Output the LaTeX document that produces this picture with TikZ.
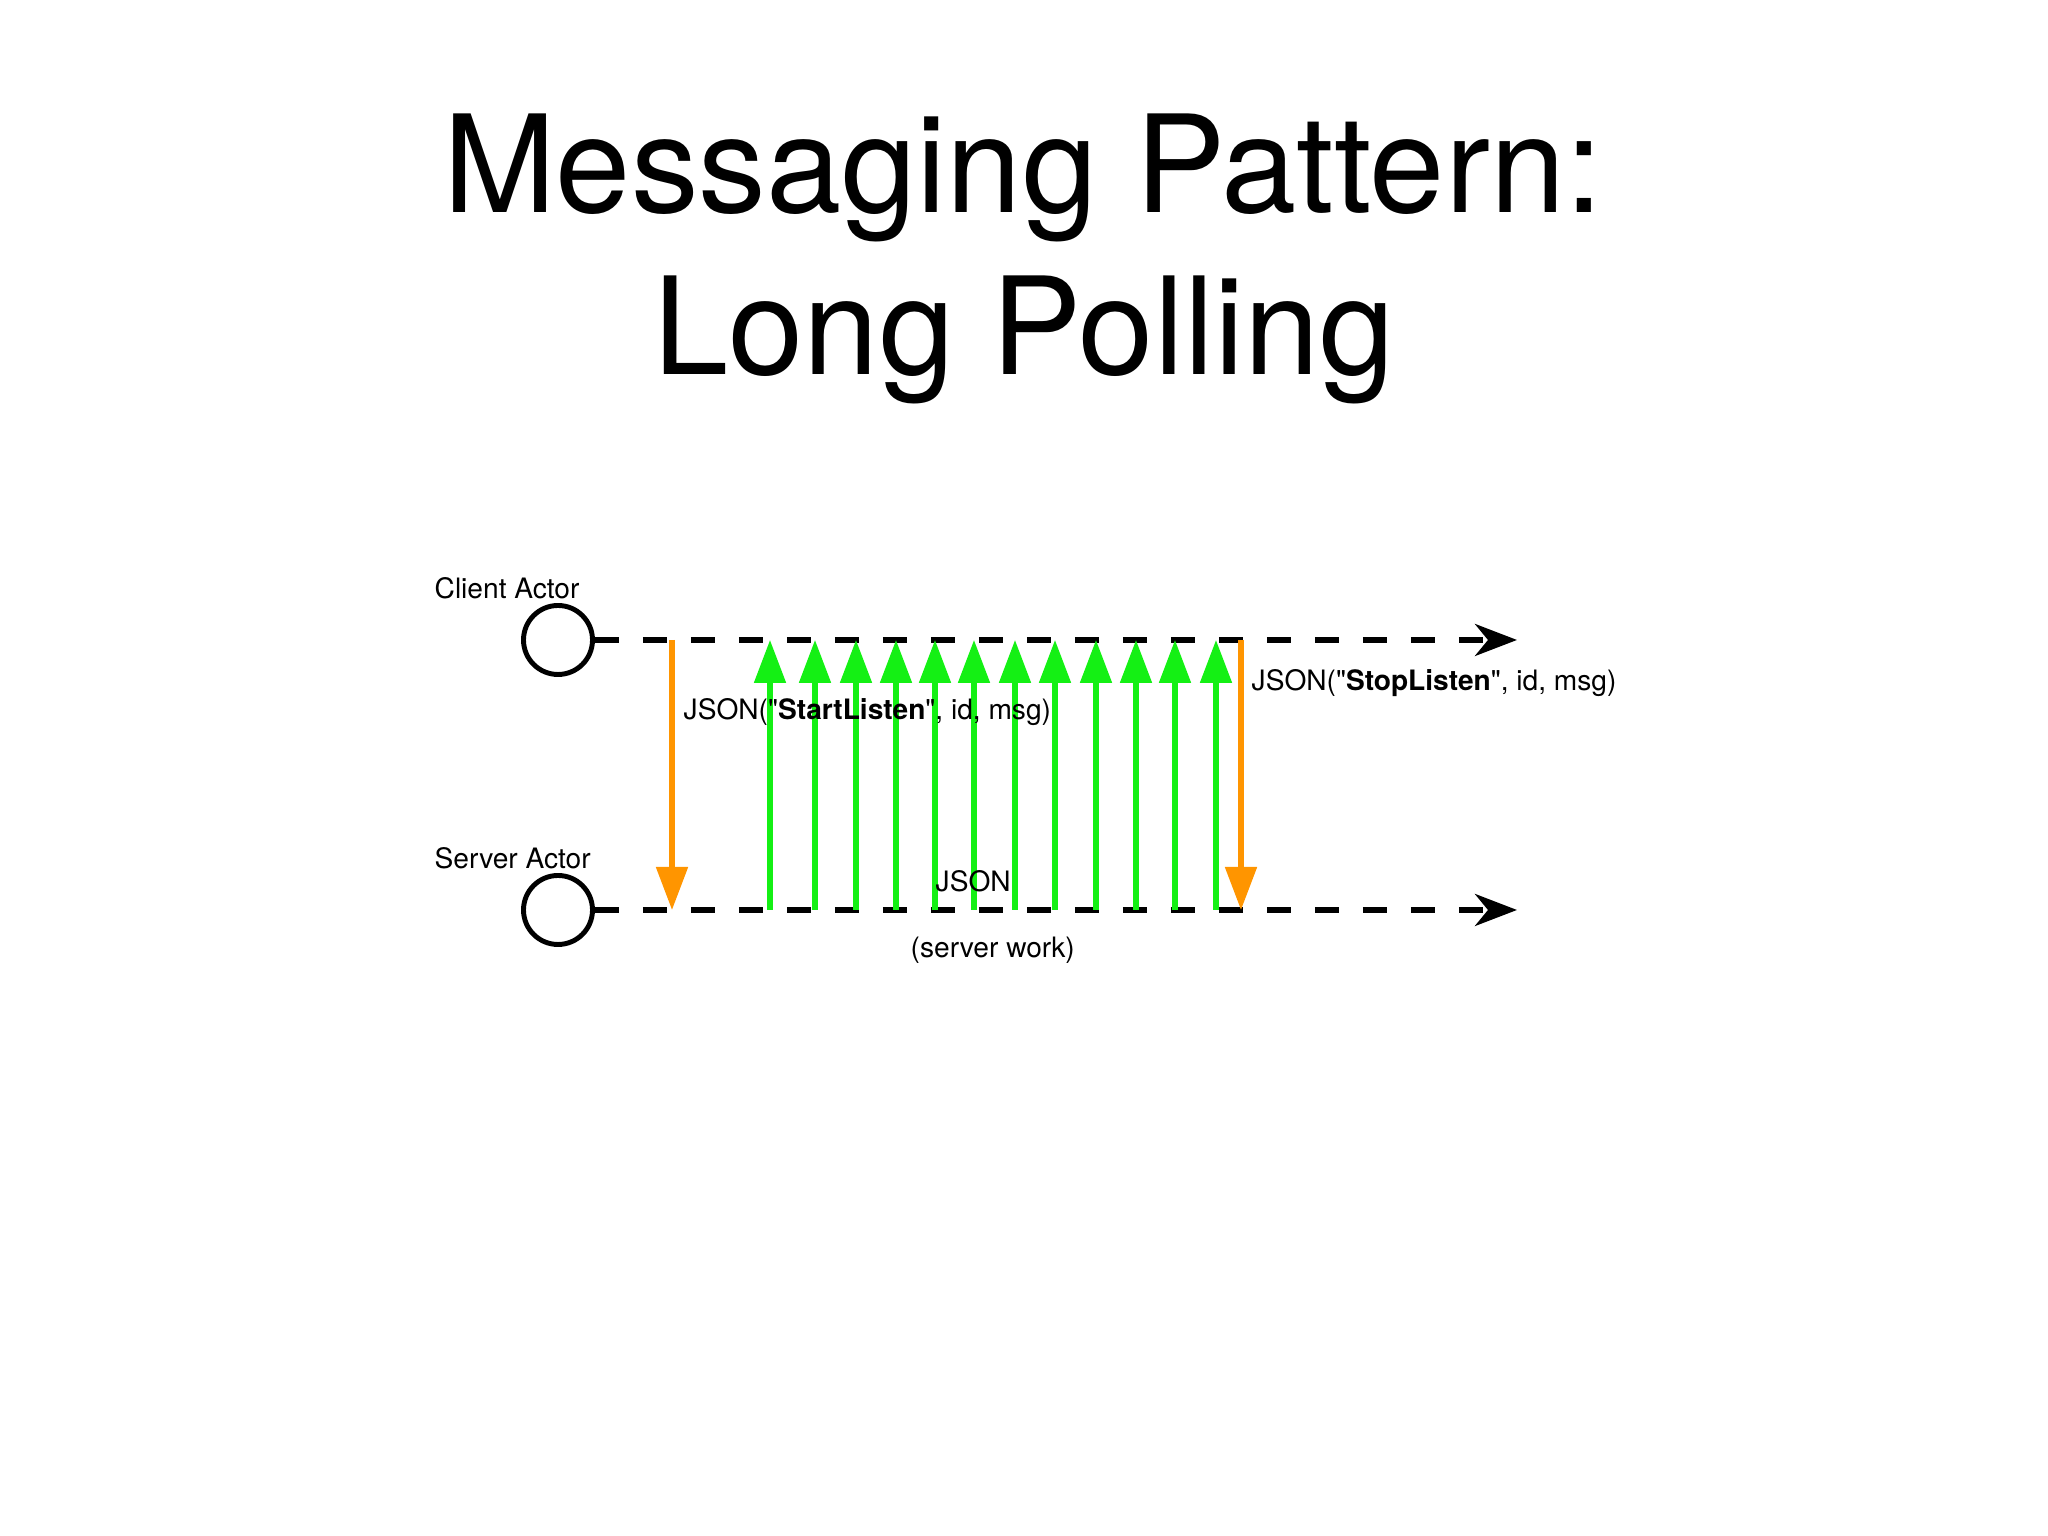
\documentclass[tikz,border=0pt]{standalone}
\usepackage{fontspec}
\setmainfont{TeX Gyre Heros}
\usetikzlibrary{arrows.meta}
\definecolor{msgorange}{RGB}{255,149,0}
\definecolor{msggreen}{RGB}{20,240,20}
\begin{document}
\begin{tikzpicture}
    [
    actor/.style={circle,draw,line width=1.4pt,inner sep=0pt,minimum size=6.9mm},
    lifeline/.style={line width=1.45pt,dash pattern=on 2.4mm off 2.4mm,-{Stealth[length=4.2mm,width=3.2mm,inset=1.3mm]}},
    request/.style={line width=1.45pt,msgorange,-{Triangle[length=4.3mm,width=3.1mm]}},
    reply/.style={line width=1.45pt,msggreen,-{Triangle[length=4.3mm,width=3.1mm]}},
    lbl/.style={inner sep=0pt,anchor=base west,font=\fontsize{8}{9.6}\selectfont},
    title/.style={inner sep=0pt,anchor=base,font=\fontsize{38.5}{46}\selectfont}
    ]
    \useasboundingbox (0,0) rectangle (20.48,15.36);
    \node (t1) at (10.23,13.23) [title] {Messaging Pattern:};
    \node (t2) at (10.24,11.61) [title] {Long Polling};
    \node (client) at (5.58,8.96) [actor] {};
    \node (server) at (5.58,6.26) [actor] {};
    \node (cname) at (4.34,9.377) [lbl] {Client Actor};
    \node (sname) at (4.34,6.677) [lbl] {Server Actor};
    \coordinate (cend) at (15.17,8.96);
    \coordinate (send) at (15.17,6.26);
    \draw [lifeline] (client) to (cend);
    \draw [lifeline] (server) to (send);
    \coordinate (o1) at (6.72,8.96);
    \coordinate (o2) at (12.41,8.96);
    \coordinate (s1) at (7.70,6.26);
    \coordinate (s2) at (8.15,6.26);
    \coordinate (s3) at (8.56,6.26);
    \coordinate (s4) at (8.96,6.26);
    \coordinate (s5) at (9.35,6.26);
    \coordinate (s6) at (9.74,6.26);
    \coordinate (s7) at (10.15,6.26);
    \coordinate (s8) at (10.55,6.26);
    \coordinate (s9) at (10.96,6.26);
    \coordinate (s10) at (11.36,6.26);
    \coordinate (s11) at (11.75,6.26);
    \coordinate (s12) at (12.16,6.26);
    \draw [request] (o1) to (o1 |- send);
    \draw [reply] (s1) to (s1 |- cend);
    \draw [reply] (s2) to (s2 |- cend);
    \draw [reply] (s3) to (s3 |- cend);
    \draw [reply] (s4) to (s4 |- cend);
    \draw [reply] (s5) to (s5 |- cend);
    \draw [reply] (s6) to (s6 |- cend);
    \draw [reply] (s7) to (s7 |- cend);
    \draw [reply] (s8) to (s8 |- cend);
    \draw [reply] (s9) to (s9 |- cend);
    \draw [reply] (s10) to (s10 |- cend);
    \draw [reply] (s11) to (s11 |- cend);
    \draw [reply] (s12) to (s12 |- cend);
    \draw [request] (o2) to (o2 |- send);
    \node (start) at (6.83,8.167) [lbl] {JSON(\textquotedbl\textbf{StartListen}\textquotedbl, id, msg)};
    \node (stop) at (12.51,8.45) [lbl] {JSON(\textquotedbl\textbf{StopListen}\textquotedbl, id, msg)};
    \node (json) at (9.35,6.443) [lbl] {JSON};
    \node (work) at (9.10,5.78) [lbl] {(server work)};
  \end{tikzpicture}
\end{document}
